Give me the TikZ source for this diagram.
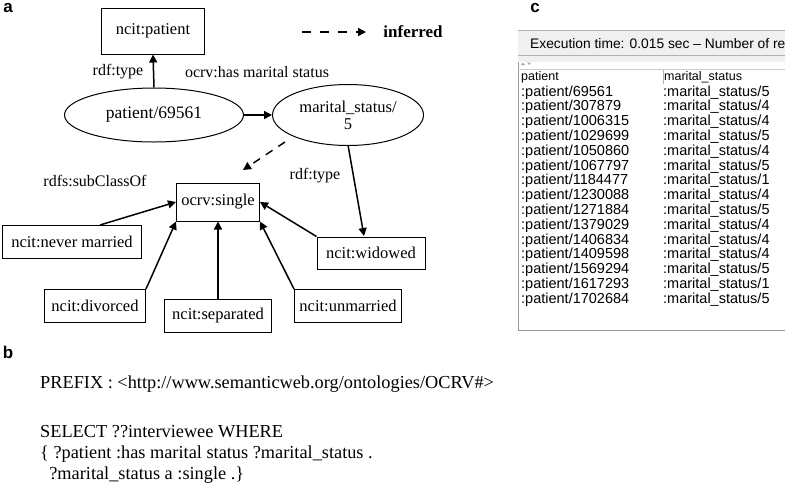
\documentclass[tikz,border=0pt]{standalone}
\usepackage{fontspec}
\setmainfont{Liberation Serif}
\newfontfamily\sansf{Liberation Sans}
\usetikzlibrary{shapes.geometric,arrows.meta}
\begin{document}
\begin{tikzpicture}[x=1pt,y=-1pt,
  box/.style={draw,line width=1pt,inner sep=0pt,font=\fontsize{16.5}{18}\selectfont},
  ell/.style={draw,ellipse,line width=1pt,inner sep=0pt,font=\fontsize{17.5}{18}\selectfont},
  lab/.style={font=\fontsize{16}{18}\selectfont,inner sep=0pt},
  arr/.style={line width=1.5pt,-{Triangle[length=8pt,width=8pt]}},
  panel/.style={font=\sansf\bfseries\fontsize{17}{17}\selectfont,inner sep=0pt},
  code/.style={font=\fontsize{18.3}{20}\selectfont,inner sep=0pt,anchor=west},
  row/.style={font=\sansf\fontsize{14.5}{16}\selectfont,inner sep=0pt,anchor=west}]
\useasboundingbox (0,0) rectangle (785,483);
\node[panel] (pa) at (8,8) {a};
\node[panel] (pb) at (8,352) {b};
\node[panel] (pc) at (535,8) {c};
% diagram a
\node[box,minimum width=103,minimum height=46] (np) at (153,31) {ncit:patient};
\coordinate (l1) at (302,32); \coordinate (l2) at (366,32);
\draw[arr,dashed,dash pattern=on 9pt off 9pt] (l1) -- (l2);
\node[lab,font=\bfseries\fontsize{17}{18}\selectfont] (inf) at (413,32) {inferred};
\node[ell,minimum width=179,minimum height=54] (pt) at (154,115) {patient/69561};
\node[ell,minimum width=151,minimum height=61,align=center,font=\fontsize{16.5}{17}\selectfont] (ms) at (348,115) {marital\_status/\\5};
\node[lab] (t1) at (118,72) {rdf:type};
\node[lab] (t2) at (257,72) {ocrv:has marital status};
\node[lab] (t3) at (95,181) {rdfs:subClassOf};
\node[lab] (t4) at (315,176) {rdf:type};
\node[box,minimum width=83,minimum height=38] (sg) at (218,202) {ocrv:single};
\node[box,minimum width=139,minimum height=33] (nm) at (72,242) {ncit:never married};
\node[box,minimum width=108,minimum height=32] (wd) at (371,253) {ncit:widowed};
\node[box,minimum width=101,minimum height=33] (dv) at (95,306) {ncit:divorced};
\node[box,minimum width=107,minimum height=33] (sp) at (218,316) {ncit:separated};
\node[box,minimum width=107,minimum height=33] (um) at (348,306) {ncit:unmarried};
\draw[arr] (pt.north) -- (np.south);
\draw[arr] (pt.east) -- (ms.west);
\coordinate (d1) at (285,142); \coordinate (d2) at (243,170);
\draw[arr,dashed,dash pattern=on 8pt off 7pt] (d1) -- (d2);
\coordinate (w1) at (348,145); \coordinate (w2) at (364,236);
\draw[arr] (w1) -- (w2);
\coordinate (n1) at (100,225);
\draw[arr] (n1) -- (sg.west);
\draw[arr] (dv.north east) -- (sg.south west);
\draw[arr] (sp.north) -- (sg.south);
\draw[arr] (um.north west) -- (sg.south east);
\draw[arr] (wd.north west) -- (sg.east);
% b
\node[code] (c1) at (40,384) {PREFIX : <http://www.semanticweb.org/ontologies/OCRV\#>};
\node[code] (c2) at (40,432) {SELECT ??interviewee WHERE};
\node[code] (c3) at (40,454) {\{ ?patient :has marital status ?marital\_status .};
\node[code] (c4) at (40,475) {\ \ ?marital\_status a :single .\}};
% c
\begin{scope}
\clip (518,30) rectangle (785,335);
\fill[black!6] (518,30) rectangle (785,62);
\draw[black!30] (518,30) -- (785,30);
\draw[black!30] (518,55) -- (785,55);
\node[row,font=\sansf\fontsize{13.8}{15}\selectfont] (ex) at (530,44) {Execution time: 0.015 sec – Number of results};
\fill[white] (518,62) rectangle (785,330);
\draw[black!40] (518,62) -- (518,330) -- (785,330);
\draw[black!20] (518,69) -- (785,69);
\draw[black!30] (663,70) -- (663,84);
\fill[black!35] (521,65) -- (523,62.5) -- (525,65) -- cycle;
\fill[black!35] (527,62.5) -- (529,65) -- (531,62.5) -- cycle;
\node[row,font=\sansf\fontsize{12.5}{14}\selectfont] (h1) at (521,77) {patient};
\node[row,font=\sansf\fontsize{12.5}{14}\selectfont] (h2) at (664,77) {marital\_status};
\foreach[count=\i] \p/\m in {69561/5,307879/4,1006315/4,1029699/5,1050860/4,1067797/5,1184477/1,1230088/4,1271884/5,1379029/4,1406834/4,1409598/4,1569294/5,1617293/1,1702684/5}{
  \node[row] (p\i) at (521,{77.5+14.8*\i}) {:patient/\p};
  \node[row] (m\i) at (663,{77.5+14.8*\i}) {:marital\_status/\m};
}
\end{scope}
\end{tikzpicture}
\end{document}
